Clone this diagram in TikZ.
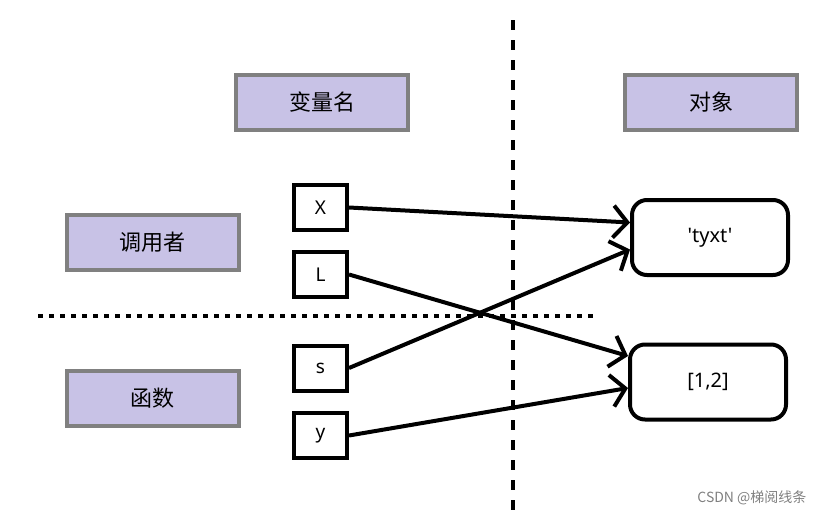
\documentclass[tikz,border=0pt]{standalone}
\usepackage{fontspec}
\setmainfont{Noto Sans CJK SC}
\newfontfamily\latinfont{Noto Sans}
\usepackage{tikz}
\usetikzlibrary{calc, positioning, arrows.meta}
\definecolor{lav}{RGB}{200,194,230}
\definecolor{rim}{RGB}{128,128,128}
\tikzstyle{hdr}=[draw=rim, fill=lav, line width=4pt, minimum width=172pt, minimum height=55pt, inner sep=0pt, font=\fontsize{22}{26}\selectfont]
\tikzstyle{var}=[draw, line width=4pt, minimum width=53pt, minimum height=45pt, inner sep=0pt, font=\latinfont\fontsize{19}{22}\selectfont]
\tikzstyle{obj}=[draw, line width=4pt, rounded corners=15pt, minimum width=156pt, minimum height=75pt, inner sep=0pt, font=\latinfont\fontsize{20}{24}\selectfont]
\tikzstyle{ref}=[line width=4pt, -{Straight Barb[length=14pt, width=32pt, line width=4pt]}]
\tikzset{>=stealth}

\begin{document}
\begin{tikzpicture}[x=1pt, y=-1pt]
\useasboundingbox (0,0) rectangle (824,517);
\node[hdr] (names) at (322,102.5) {变量名};
\node[hdr] (objs) at (711,102.5) {对象};
\node[hdr] (caller) at (152.5,242.5) {调用者};
\node[hdr] (func) at (152.5,398) {函数};

\node[var] (X) at (320.5,207.5) {X};
\node[var] (L) at (320.5,274.5) {L};
\node[var] (s) at (320.5,368) {s};
\node[var] (y) at (320.5,435.5) {y};

\node[obj] (tyxt) at (710,237.5) {\char"27 tyxt\char"27};
\node[obj] (lst) at (708,382) {[1,2]};

% dividers
\coordinate (vtop) at (513,20);
\coordinate (vbot) at (513,510);
\coordinate (hl) at (38,316);
\coordinate (hr) at (597,316);
\draw[line width=4pt, dash pattern=on 10pt off 10pt] (vtop) -- (vbot);
\draw[line width=3.5pt, dash pattern=on 5pt off 6pt] (hl) -- (hr);

\draw[ref] (X.east) -- ([yshift=15pt]tyxt.west);
\draw[ref] (L.east) -- ([yshift=26pt]lst.west);
\draw[ref] (s.east) -- ([yshift=-12pt]tyxt.west);
\draw[ref] (y.east) -- ([yshift=-6pt]lst.west);

\node[text=gray, font=\fontsize{14}{16}\selectfont, anchor=east] (mark) at (810,498) {CSDN @梯阅线条};
\end{tikzpicture}
\end{document}
